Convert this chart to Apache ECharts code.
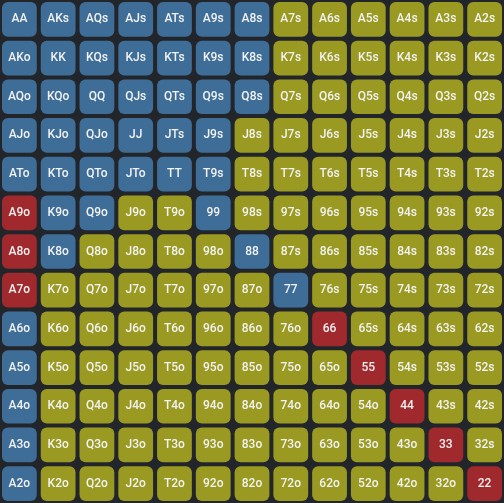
<!DOCTYPE html>
<html>
<head>
<meta charset="utf-8">
<script src="https://cdn.jsdelivr.net/npm/echarts@6/dist/echarts.min.js"></script>
<style>
  html, body { margin: 0; padding: 0; background: #22262b; }
  #main { width: 504px; height: 503px; }
</style>
</head>
<body>
<div id="main"></div>
<script>
// ranks, top to bottom / left to right
var ranks = ['A', 'K', 'Q', 'J', 'T', '9', '8', '7', '6', '5', '4', '3', '2'];

// action per cell, one string per row: B = blue, O = olive, R = red
var actionRows = [
  'BBBBBBBOOOOOO',
  'BBBBBBBOOOOOO',
  'BBBBBBBOOOOOO',
  'BBBBBBOOOOOOO',
  'BBBBBBOOOOOOO',
  'RBBOOBOOOOOOO',
  'RBOOOOBOOOOOO',
  'ROOOOOOBOOOOO',
  'BOOOOOOOROOOO',
  'BOOOOOOOOROOO',
  'BOOOOOOOOOROO',
  'BOOOOOOOOOORO',
  'BOOOOOOOOOOOR'
];

var actionColors = { B: '#3e6e98', O: '#9a9a22', R: '#a0292d' };

function handName(r, c) {
  if (r == c) return ranks[r] + ranks[c];
  if (c > r) return ranks[r] + ranks[c] + 's';
  return ranks[c] + ranks[r] + 'o';
}

var cells = [];
for (var r = 0; r < 13; r++) {
  for (var c = 0; c < 13; c++) {
    cells.push([c, r, actionRows[r].charAt(c), handName(r, c)]);
  }
}

var chart = echarts.init(document.getElementById('main'));
var option = {
  backgroundColor: '#22262b',
  animation: false,
  grid: { left: 0, right: 0, top: 0, bottom: 0 },
  xAxis: {
    type: 'category',
    data: ranks,
    show: false
  },
  yAxis: {
    type: 'category',
    data: ranks,
    inverse: true,
    show: false
  },
  series: [{
    type: 'custom',
    data: cells,
    encode: { x: 0, y: 1 },
    renderItem: function (params, api) {
      var center = api.coord([api.value(0), api.value(1)]);
      var size = api.size([1, 1]);
      var gap = 2;
      var w = size[0] - gap * 2;
      var h = size[1] - gap * 2;
      var action = cells[params.dataIndex][2];
      var name = cells[params.dataIndex][3];
      return {
        type: 'rect',
        shape: { x: center[0] - w / 2, y: center[1] - h / 2, width: w, height: h, r: 6 },
        style: { fill: actionColors[action] },
        textContent: {
          style: {
            text: name,
            fill: '#f2f2f2',
            fontSize: 12,
            fontWeight: 500,
            fontFamily: 'Roboto, "Noto Sans", sans-serif'
          }
        },
        textConfig: { position: 'inside' }
      };
    }
  }]
};
chart.setOption(option);

window.addEventListener('resize', function () {
  chart.resize();
});
</script>
</body>
</html>
